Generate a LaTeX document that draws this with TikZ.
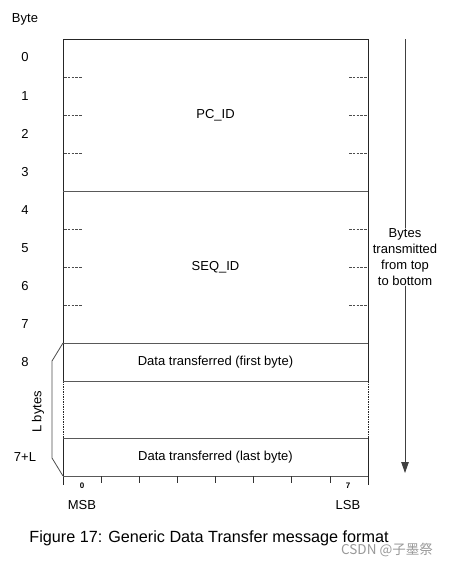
\documentclass[tikz,border=0pt]{standalone}
\usepackage{fontspec}
\setmainfont{Liberation Sans}
\newfontfamily\cjk{Noto Sans CJK SC}
\usetikzlibrary{arrows.meta}
\begin{document}
\begin{tikzpicture}[x=1pt,y=-1pt,
  lbl/.style={font=\fontsize{13}{15}\selectfont, inner sep=0pt},
  tiny/.style={font=\fontsize{8}{9}\selectfont\bfseries, inner sep=0pt},
  edge/.style={line width=0.9pt, black!85},
  divider/.style={line width=1pt, black!65},
  dmark/.style={line width=0.9pt, black!70, dash pattern=on 2.6pt off 1.2pt},
  bracestyle/.style={line width=0.8pt, black!70}]
\useasboundingbox (0,0) rectangle (449,565);
% outer box
\draw[edge] (63,39) -- (368,39);
\draw[edge] (63,39) -- (63,381);
\draw[edge] (368,39) -- (368,381);
\draw[edge] (63,438) -- (63,485);
\draw[edge] (368,438) -- (368,485);
\draw[edge, dash pattern=on 1.5pt off 1pt, line width=0.7pt] (63,381) -- (63,438);
\draw[edge, dash pattern=on 1.5pt off 1pt, line width=0.7pt] (368,381) -- (368,438);
\foreach \y in {191,343,381,438,476}
  \draw[divider] (63,\y) -- (368,\y);
\foreach \y in {77,115,153,229,267,305}{
  \draw[dmark] (64,\y) -- (82,\y);
  \draw[dmark] (349,\y) -- (367,\y);
}
% ticks
\foreach \x in {101.1,139.3,177.4,215.5,253.6,291.8,329.9}
  \draw[line width=0.8pt, black!80] (\x,476) -- (\x,483);
% field labels
\node[lbl] (pc) at (215.5,115) {PC\_ID};
\node[lbl] (seq) at (215.5,267) {SEQ\_ID};
\node[lbl] (first) at (215.5,362) {Data transferred (first byte)};
\node[lbl] (last) at (215.5,457) {Data transferred (last byte)};
% byte labels
\node[lbl] (byte) at (25,19) {Byte};
\foreach \n/\y in {0/57,1/96,2/134,3/172,4/210,5/248,6/286,7/324,8/362}
  \node[lbl] (b\n) at (25,\y) {\n};
\node[lbl] (bL) at (25,457) {7+L};
% brace
\draw[bracestyle] (63,343) -- (52,361) -- (52,458) -- (63,476);
\node[lbl, rotate=90] (lb) at (38,412) {L bytes};
% bit labels
\node[tiny] (z) at (82,486) {0};
\node[tiny] (s) at (348,486) {7};
\node[lbl] (msb) at (82,505) {MSB};
\node[lbl] (lsb) at (348,505) {LSB};
% arrow
\node[lbl, align=center, font=\fontsize{13}{16}\selectfont] (bt) at (405,257) {Bytes\\transmitted\\from top\\to bottom};
\coordinate (atop) at (405,39);
\coordinate (abot) at (405,473);
\draw[line width=0.8pt, black!75] (atop) -- (bt.north);
\draw[line width=0.8pt, black!75, -{Triangle[length=11pt,width=7.5pt]}] (bt.south) -- (abot);
% caption
\node[inner sep=0pt, font=\fontsize{16.2}{18}\selectfont] (cap) at (209,538) {Figure 17: Generic Data Transfer message format};
\node[inner sep=0pt, anchor=east, text=black!40, font=\cjk\fontsize{13.5}{15}\selectfont] (wm) at (433,550) {CSDN @子墨祭};
\end{tikzpicture}
\end{document}
